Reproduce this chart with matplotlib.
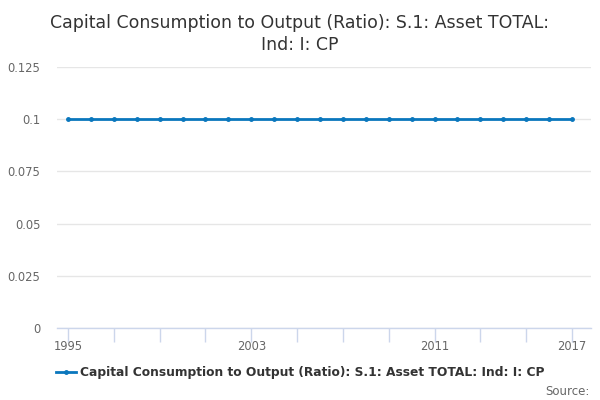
import matplotlib
matplotlib.use("Agg")
import matplotlib.pyplot as plt
from matplotlib.lines import Line2D

years = list(range(1995, 2018))
ratio = [0.1] * len(years)
y_ticks = [0, 0.025, 0.05, 0.075, 0.1, 0.125]
y_labels = ["0", "0.025", "0.05", "0.075", "0.1", "0.125"]
x_labelled = [1995, 2003, 2011, 2017]
series_name = "Capital Consumption to Output (Ratio): S.1: Asset TOTAL: Ind: I: CP"
title = "Capital Consumption to Output (Ratio): S.1: Asset TOTAL:\nInd: I: CP"

line_color = "#0a77bd"
axis_color = "#ccd6eb"
grid_color = "#e6e6e6"
text_color = "#666666"

plt.rcParams['font.family'] = ['DejaVu Sans']

fig = plt.figure(figsize=(6, 4), dpi=100)
ax = fig.add_axes([0.095, 0.18, 0.89, 0.6525])

ax.plot(years, ratio, color=line_color, linewidth=2, marker='o', markersize=2.5, zorder=3)

ax.set_xlim(1994.52, 2017.83)
ax.set_ylim(0, 0.125)

ax.set_yticks(y_ticks)
ax.set_yticklabels(y_labels)
ax.grid(axis='y', color=grid_color, linewidth=1)
ax.set_axisbelow(True)

# tick marks every two years, labels only on a few years
tick_years = list(range(1995, 2018, 2))
ax.set_xticks(tick_years)
ax.set_xticklabels([str(y) if y in x_labelled else "" for y in tick_years])
ax.tick_params(axis='x', length=10, color=axis_color, width=1, pad=-1,
               labelsize=8.3, labelcolor=text_color)
ax.tick_params(axis='y', length=0, pad=12, labelsize=8.3, labelcolor=text_color)

for side in ['top', 'right', 'left']:
    ax.spines[side].set_visible(False)
ax.spines['bottom'].set_color(axis_color)
ax.spines['bottom'].set_linewidth(1)

fig.text(0.5, 0.965, title, ha='center', va='top', fontsize=12.5, color="#333333", linespacing=1.3)

handle = Line2D([], [], color=line_color, linewidth=2, marker='o', markersize=2.5)
fig.legend([handle], [series_name], loc='center left', bbox_to_anchor=(0.075, 0.068),
           frameon=False, handlelength=1.6, handletextpad=0.4,
           prop={'size': 8.8, 'weight': 'bold'}, labelcolor="#333333")

fig.text(0.982, 0.022, "Source:", ha='right', va='center', fontsize=8.5, color=text_color)

fig.savefig("out.png", dpi=100)
